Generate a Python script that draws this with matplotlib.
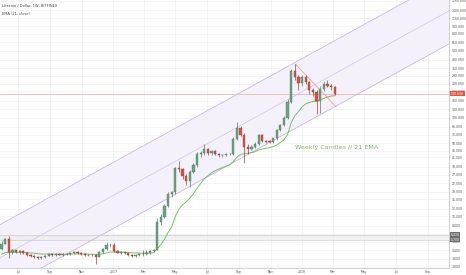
import numpy as np
import pandas as pd
import matplotlib
matplotlib.use("Agg")
import matplotlib.pyplot as plt
import matplotlib.dates as mdates
from matplotlib.ticker import NullLocator

# ----------------------------------------
# Data (weekly candles)
# ----------------------------------------
FIRST_WEEK = "2016-05-30"

OPEN = [4.6, 5.2, 5.8, 4.25, 4.4, 4.2, 4.3, 4.1, 3.95, 3.85,
        3.75, 3.68, 3.78, 3.9, 4.05, 3.95, 4.02, 3.98, 4.05, 4.0,
        4.1, 4.25, 4.12, 4.0, 3.98, 3.92, 3.95, 3.8, 4.2, 4.55,
        5.0, 5.05, 4.3, 4.15, 4.2, 4.1, 3.95, 3.85, 3.95, 4.05,
        4.0, 4.15, 4.3, 4.5, 8.8, 9.8, 12.8, 17.0, 17.8, 32.0,
        30.8, 26.0, 23.5, 29.0, 34.0, 45.0, 45.5, 50.0, 45.5, 47.5,
        44.5, 43.2, 43.6, 44.2, 45.0, 64.0, 84.0, 71.0, 53.0, 50.5,
        53.0, 57.0, 70.0, 61.0, 60.0, 59.5, 65.0, 79.0, 90.0, 106.0,
        155.0, 330.0, 280.0, 245.0, 282.0, 250.0, 205.0, 195.0, 160.0, 212.0,
        240.0, 228.0, 222.0]
HIGH = [5.5, 6.0, 6.3, 4.6, 4.5, 4.4, 4.4, 4.2, 4.05, 3.95,
        3.85, 3.85, 3.95, 4.15, 4.1, 4.1, 4.1, 4.1, 4.12, 4.15,
        4.3, 4.35, 4.2, 4.1, 4.05, 4.05, 4.0, 4.3, 4.7, 5.4,
        5.3, 5.3, 4.4, 4.3, 4.25, 4.15, 4.0, 4.0, 4.1, 4.4,
        4.5, 4.4, 4.6, 9.5, 10.5, 13.5, 18.0, 18.5, 33.0, 38.0,
        31.5, 27.5, 30.5, 36.0, 47.0, 48.0, 56.0, 52.0, 48.5, 49.0,
        46.0, 45.0, 45.5, 46.0, 67.0, 97.0, 88.0, 74.0, 56.0, 55.0,
        60.0, 72.0, 72.0, 63.0, 62.5, 66.0, 82.0, 92.0, 110.0, 165.0,
        345.0, 390.0, 300.0, 300.0, 300.0, 258.0, 215.0, 205.0, 228.0, 255.0,
        260.0, 240.0, 228.0]
LOW = [4.5, 5.1, 3.7, 4.0, 4.1, 4.05, 4.0, 3.85, 3.75, 3.65,
       3.6, 3.6, 3.7, 3.85, 3.9, 3.9, 3.92, 3.9, 3.95, 3.95,
       4.05, 4.05, 3.95, 3.9, 3.85, 3.85, 3.15, 3.75, 4.15, 4.4,
       4.8, 4.2, 4.1, 4.05, 4.0, 3.85, 3.75, 3.8, 3.9, 3.9,
       3.95, 4.05, 4.2, 4.4, 8.2, 9.5, 12.5, 16.0, 17.0, 29.0,
       24.5, 21.0, 20.0, 28.0, 33.0, 41.0, 43.0, 44.0, 43.5, 43.0,
       41.0, 41.5, 42.0, 43.0, 44.0, 62.0, 68.0, 36.0, 45.0, 49.0,
       51.0, 55.0, 59.0, 57.5, 58.0, 58.0, 63.0, 77.0, 88.0, 103.0,
       150.0, 260.0, 205.0, 230.0, 240.0, 190.0, 180.0, 115.0, 118.0, 200.0,
       222.0, 205.0, 182.0]
CLOSE = [5.2, 5.8, 4.25, 4.4, 4.2, 4.3, 4.1, 3.95, 3.85, 3.75,
         3.68, 3.78, 3.9, 4.05, 3.95, 4.02, 3.98, 4.05, 4.0, 4.1,
         4.25, 4.12, 4.0, 3.98, 3.92, 3.95, 3.8, 4.2, 4.55, 5.0,
         5.05, 4.3, 4.15, 4.2, 4.1, 3.95, 3.85, 3.95, 4.05, 4.0,
         4.15, 4.3, 4.5, 8.8, 9.8, 12.8, 17.0, 17.8, 32.0, 30.8,
         26.0, 23.5, 29.0, 34.0, 45.0, 45.5, 50.0, 45.5, 47.5, 44.5,
         43.2, 43.6, 44.2, 45.0, 64.0, 84.0, 71.0, 53.0, 50.5, 53.0,
         57.0, 70.0, 61.0, 60.0, 59.5, 65.0, 79.0, 90.0, 106.0, 155.0,
         330.0, 280.0, 245.0, 282.0, 250.0, 205.0, 195.0, 160.0, 212.0, 240.0,
         228.0, 222.0, 190.0]

EMA_LEN = 21
EMA_START = 3.9          # EMA level at the left edge of the chart

# parallel channel (middle line at both chart edges, band ratio)
CHANNEL_DATES = ["2016-05-27", "2018-10-16"]
CHANNEL_MID = [3.7, 1420.0]
CHANNEL_RATIO = 2.21

# red descending trendline from the top
TREND_DATES = ["2017-12-19", "2018-03-08"]
TREND_PRICES = [385.0, 138.0]

# gray horizontal zone
ZONE = [6.43, 5.70]

YTICKS = [1760, 1400, 1160, 960, 800, 650, 530, 430, 350, 290, 240, 200,
          160, 130, 106, 86, 71, 58, 48, 41, 33, 27, 22, 18, 15, 12, 10,
          8, 6.6, 5.4, 4.4, 3.6, 3.0]
XTICK_DATES = ["2016-07-01", "2016-09-01", "2016-11-01", "2017-01-01",
               "2017-03-01", "2017-05-01", "2017-07-01", "2017-09-01",
               "2017-11-01", "2018-01-01", "2018-03-01", "2018-05-01",
               "2018-07-01", "2018-09-01"]
XTICK_LABELS = ["Jul", "Sep", "Nov", "2017", "Mar", "May", "Jul", "Sep",
                "Nov", "2018", "Mar", "May", "Jul", "Sep"]

# ----------------------------------------
# Styles
# ----------------------------------------
UP = "#6ba583"
DOWN = "#d75442"
EMA_COLOR = "#7cbc5e"
CH_LINE = "#c7b6e6"
CH_FILL = "#f5f1fb"
GRID = "#eef0f4"
FS = 2.25

o = np.array(OPEN)
h = np.array(HIGH)
l = np.array(LOW)
c = np.array(CLOSE)
dates = pd.date_range(FIRST_WEEK, periods=len(c), freq="7D")
x = mdates.date2num(dates)

# EMA (21, close)
alpha = 2.0 / (EMA_LEN + 1)
ema = []
prev = EMA_START
for v in c:
    prev = prev + alpha * (v - prev)
    ema.append(prev)

fig = plt.figure(figsize=(4.66, 2.75), dpi=100)
ax = fig.add_axes([0.0, 0.026, 449 / 466, 268 / 275])
ax.set_yscale("log")

x0 = mdates.date2num(pd.Timestamp("2016-05-27"))
x1 = mdates.date2num(pd.Timestamp("2018-10-12"))
ax.set_xlim(x0, x1)
ax.set_ylim(2.9, 1800)

# channel
cx = mdates.date2num(pd.to_datetime(CHANNEL_DATES))
mid = np.array(CHANNEL_MID)
top = mid * CHANNEL_RATIO
bot = mid / CHANNEL_RATIO
ax.fill_between(cx, bot, top, color=CH_FILL, zorder=1, lw=0)
ax.plot(cx, top, color=CH_LINE, lw=0.6, zorder=2)
ax.plot(cx, bot, color=CH_LINE, lw=0.6, zorder=2)
ax.plot(cx, mid, color=CH_LINE, lw=0.5, alpha=0.8, zorder=2)

# gray zone
ax.axhspan(ZONE[1], ZONE[0], color="#ececec", alpha=0.7, lw=0, zorder=1.5)
for zv in ZONE:
    ax.axhline(zv, color="#c4c4c4", lw=0.4, zorder=2)

# current price line
ax.axhline(c[-1], color="#f2aaa2", lw=0.5, zorder=2)

# trendline
tx = mdates.date2num(pd.to_datetime(TREND_DATES))
ax.plot(tx, TREND_PRICES, color="#f0a195", lw=0.6, zorder=3)

# EMA
ax.plot(x, ema, color=EMA_COLOR, lw=0.7, zorder=4)

# candles
up = c >= o
cols = np.where(up, UP, DOWN)
wick = np.where(up, "#3f6e52", "#8a3328")
ax.vlines(x, l, h, colors=wick, lw=0.45, zorder=5)
body_lo = np.minimum(o, c)
body_h = np.maximum(np.abs(c - o), 0.012 * o)
ax.bar(x, body_h, bottom=body_lo, width=4.3, color=cols,
       edgecolor=wick, linewidth=0.25, zorder=6)

ax.text(mdates.date2num(pd.Timestamp("2017-12-18")), 51.5,
        "Weekly Candles // 21 EMA", color=EMA_COLOR, fontsize=4.6,
        va="center", ha="left", zorder=7)

# axes styling
ax.yaxis.tick_right()
ax.set_yticks(YTICKS)
ax.set_yticklabels([f"{t:.3f}" for t in YTICKS])
ax.yaxis.set_minor_locator(NullLocator())
ax.set_xticks(mdates.date2num(pd.to_datetime(XTICK_DATES)))
ax.set_xticklabels(XTICK_LABELS)
ax.tick_params(axis="both", labelsize=FS, length=1.0, width=0.3, pad=0.8,
               colors="#555555")
ax.grid(True, color=GRID, lw=0.5)
ax.set_axisbelow(True)
for s in ["top", "left"]:
    ax.spines[s].set_visible(False)
for s in ["right", "bottom"]:
    ax.spines[s].set_color("#c8c8c8")
    ax.spines[s].set_linewidth(0.6)

# price tags on the right scale
ytr = ax.get_yaxis_transform()
ax.text(1.004, c[-1], f"{c[-1]:.3f}", transform=ytr, fontsize=FS,
        color="white", va="center", ha="left", clip_on=False,
        bbox=dict(boxstyle="square,pad=0.3", fc="#e5533f", ec="none"))
for zv in ZONE:
    ax.text(1.004, zv, f"{zv:.3f}", transform=ytr, fontsize=FS,
            color="white", va="center", ha="left", clip_on=False,
            bbox=dict(boxstyle="square,pad=0.2", fc="#6d6d6d", ec="none"))

# header
ax.text(0.005, 0.985, "Litecoin / Dollar, 1W, BITFINEX", transform=ax.transAxes,
        fontsize=2.6, color="#444444", va="top", ha="left")
ax.text(0.005, 0.955, "EMA (21, close)", transform=ax.transAxes,
        fontsize=2.6, color="#444444", va="top", ha="left")

fig.savefig("out.png", dpi=100)
